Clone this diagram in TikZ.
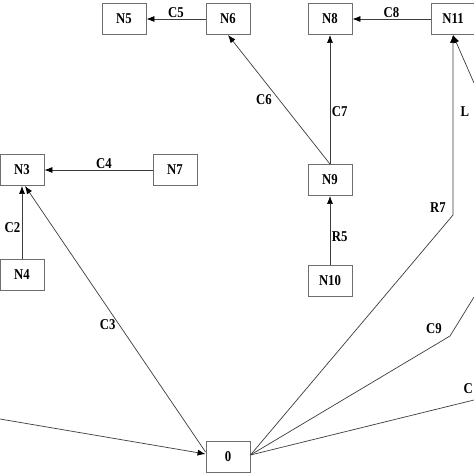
\documentclass[tikz,border=0pt]{standalone}
\usepackage{fontspec}
\setmainfont{Liberation Serif}
\newfontfamily\labfont[FakeStretch=0.85]{Liberation Serif}
\usetikzlibrary{arrows.meta}
\definecolor{boxgray}{HTML}{6E6E6E}
\definecolor{linegray}{HTML}{3C3C3C}
\begin{document}
\begin{tikzpicture}[x=1pt,y=-1pt,
  box/.style={draw=boxgray, line width=0.9pt, fill=white, minimum width=44pt, minimum height=31pt, inner sep=0pt, font=\labfont\fontsize{15}{17}\selectfont\bfseries},
  conn/.style={draw=linegray, line width=0.7pt},
  arr/.style={conn, -{Latex[length=8pt,width=6pt,color=black]}},
  lab/.style={font=\labfont\fontsize{15}{17}\selectfont\bfseries, inner sep=1.5pt}]
\useasboundingbox[fill=white] (0,0) rectangle (474,474);
% nodes
\node[box] (N5) at (124,19) {N5};
\node[box] (N6) at (228,19) {N6};
\node[box] (N8) at (330,19) {N8};
\node[box] (N11) at (453,19) {N11};
\node[box] (N3) at (22,170) {N3};
\node[box] (N7) at (175,170) {N7};
\node[box] (N4) at (22,275) {N4};
\node[box] (N9) at (330,180) {N9};
\node[box] (N10) at (330,281) {N10};
\node[box] (n0) at (228,457) {0};
% free ends and bends
\coordinate (inL) at (0,419);
\coordinate (r7b) at (453,215);
\coordinate (c9b) at (450,336);
\coordinate (c9e) at (474,297);
\coordinate (c10e) at (474,400);
\coordinate (le) at (474,83);
% connectors
\draw[arr] (N6) -- node[lab,above]{C5} (N5);
\draw[arr] (N11) -- node[lab,above]{C8} (N8);
\draw[arr] (N7) -- node[lab,above,pos=0.45]{C4} (N3);
\draw[arr] (N4) -- node[lab,left,pos=0.43]{C2} (N3);
\draw[arr] ([yshift=5pt]n0.west) -- node[lab,left,pos=0.48,inner sep=3pt]{C3} ([xshift=3pt]N3.south);
\draw[arr] (N9.north) -- node[lab,left,pos=0.5,inner sep=7pt]{C6} (N6.south);
\draw[arr] (N9) -- node[lab,right,pos=0.41]{C7} (N8);
\draw[arr] (N10) -- node[lab,right,pos=0.41]{R5} (N9);
\draw[arr] (inL) -- ([yshift=3pt]n0.west);
\draw[arr] ([yshift=2pt]n0.east) -- (r7b) -- (N11.south);
\node[lab] (lr7) at ([xshift=-15pt,yshift=7pt]r7b) {R7};
\draw[conn] ([yshift=2pt]n0.east) -- (c9b) -- (c9e);
\node[lab] (lc9) at ([xshift=-16pt,yshift=7pt]c9b) {C9};
\draw[conn] ([yshift=2pt]n0.east) -- (c10e);
\node[lab,anchor=west] (lc10) at (462,389) {C};
\draw[arr] (le) -- (N11.south);
\node[lab,anchor=west] (ll) at (459,112) {L};
\end{tikzpicture}
\end{document}
